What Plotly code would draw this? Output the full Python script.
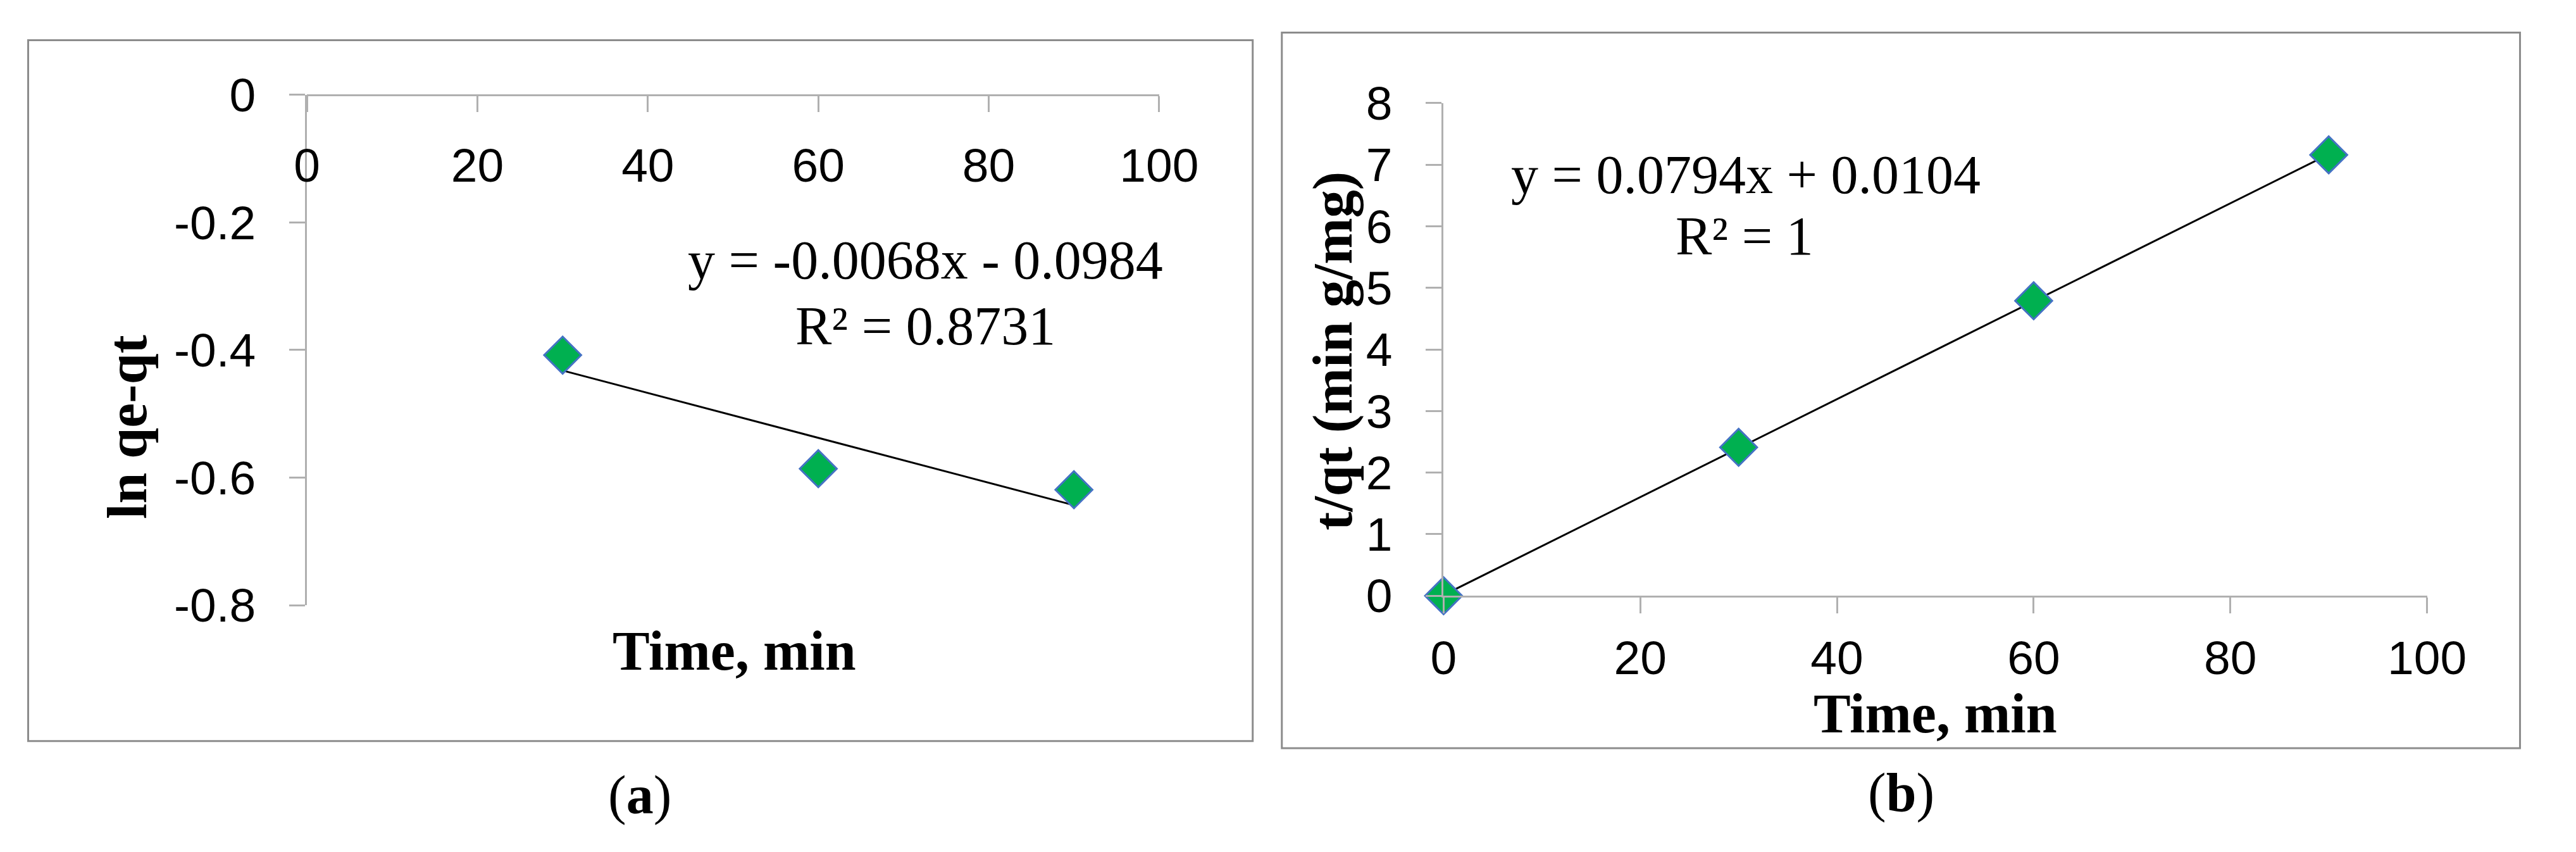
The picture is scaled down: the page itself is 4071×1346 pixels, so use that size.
import numpy as np
import plotly.graph_objects as go

# (a) pseudo-first-order
time_a = [30, 60, 90]
ln_qe_qt = [-0.408, -0.586, -0.619]
eq_a = "y = -0.0068x - 0.0984"
r2_a = "R² = 0.8731"

# (b) pseudo-second-order
time_b = [0, 30, 60, 90]
t_qt = [0.0, 2.41, 4.79, 7.16]
eq_b = "y = 0.0794x + 0.0104"
r2_b = "R² = 1"

x_ticks = [0, 20, 40, 60, 80, 100]
y_ticks_a = [0, -0.2, -0.4, -0.6, -0.8]
y_ticks_b = [0, 1, 2, 3, 4, 5, 6, 7, 8]

W, H = 4071, 1346
GREEN = "#00b050"
BLUE = "#4472c4"
AXIS = "#b0b0b0"
FRAME = "#8c8c8c"
TICK_FONT = dict(family="Liberation Sans, Arial, sans-serif", size=75, color="black")
SERIF = "Liberation Serif, Times New Roman, serif"


def px(x):
    return x / W


def py(y):
    return 1 - y / H


def fit_line(xs, ys):
    k, b = np.polyfit(xs, ys, 1)
    xs = np.array([min(xs), max(xs)])
    return xs, k * xs + b


fig = go.Figure()

marker = dict(symbol="diamond", size=45, color=GREEN, line=dict(color=BLUE, width=3))

lx, ly = fit_line(time_a, ln_qe_qt)
fig.add_trace(go.Scatter(x=lx, y=ly, mode="lines", line=dict(color="black", width=3),
                         xaxis="x", yaxis="y", showlegend=False))
fig.add_trace(go.Scatter(x=time_a, y=ln_qe_qt, mode="markers", marker=marker,
                         xaxis="x", yaxis="y", showlegend=False, cliponaxis=False))

lx, ly = fit_line(time_b, t_qt)
fig.add_trace(go.Scatter(x=lx, y=ly, mode="lines", line=dict(color="black", width=3),
                         xaxis="x2", yaxis="y2", showlegend=False))
fig.add_trace(go.Scatter(x=time_b, y=t_qt, mode="markers", marker=marker,
                         xaxis="x2", yaxis="y2", showlegend=False, cliponaxis=False))

axis_common = dict(showgrid=False, zeroline=False, showline=True, linecolor=AXIS,
                   linewidth=3, ticks="outside", ticklen=25, tickwidth=3,
                   tickcolor=AXIS, tickfont=TICK_FONT)

fig.update_layout(
    width=W, height=H,
    margin=dict(l=0, r=0, t=0, b=0),
    paper_bgcolor="white", plot_bgcolor="white",
    # x axis of (a) sits on the y = 0 line at the top, ticks and labels below it
    xaxis=dict(axis_common, domain=[px(474), px(1849)], range=[0, 100],
               tickvals=x_ticks, side="bottom", anchor="free", position=py(115),
               ticklabelstandoff=20),
    yaxis=dict(axis_common, domain=[py(975), py(115)], range=[-0.8, 0],
               tickvals=y_ticks_a, ticktext=["0", "-0.2", "-0.4", "-0.6", "-0.8"],
               ticklabelstandoff=38, anchor="x"),
    xaxis2=dict(axis_common, domain=[px(2308), px(3895)], range=[0, 100],
                tickvals=x_ticks, ticklabelstandoff=6, anchor="y2"),
    yaxis2=dict(axis_common, domain=[py(959), py(129)], range=[0, 8],
                tickvals=y_ticks_b, ticklabelstandoff=38, anchor="x2"),
)

# panel frames
fig.add_shape(type="rect", xref="paper", yref="paper", x0=px(24), x1=px(2000),
              y0=py(1204), y1=py(23), line=dict(color=FRAME, width=3))
fig.add_shape(type="rect", xref="paper", yref="paper", x0=px(2047), x1=px(4045),
              y0=py(1216), y1=py(10), line=dict(color=FRAME, width=3))

title_font = dict(family=SERIF, size=88, color="black")
eq_font = dict(family=SERIF, size=86, color="black")


def note(x, y, text, font, angle=0):
    fig.add_annotation(x=px(x), y=py(y), xref="paper", yref="paper", text=text,
                       showarrow=False, font=font, textangle=angle,
                       xanchor="center", yanchor="middle")


note(1163, 1052, "<b>Time, min</b>", title_font)
note(185, 675, "<b>ln qe-qt</b>", title_font, -90)
note(1472, 394, eq_a, eq_font)
note(1472, 505, r2_a, eq_font)
note(1011, 1295, "(<b>a</b>)", eq_font)

note(3102, 1158, "<b>Time, min</b>", title_font)
note(2130, 547, "<b>t/qt (min g/mg)</b>", title_font, -90)
note(2796, 250, eq_b, eq_font)
note(2794, 353, r2_b, eq_font)
note(3046, 1291, "(<b>b</b>)", eq_font)

# fill the browser viewport exactly
fit_js = (
    "document.body.style.margin='0';document.body.style.overflow='hidden';"
    "var gd=document.getElementById('{plot_id}');"
    "Plotly.relayout(gd,{width:window.innerWidth,height:window.innerHeight});"
)
fig.write_html("out.html", config={"displayModeBar": False}, post_script=fit_js)
